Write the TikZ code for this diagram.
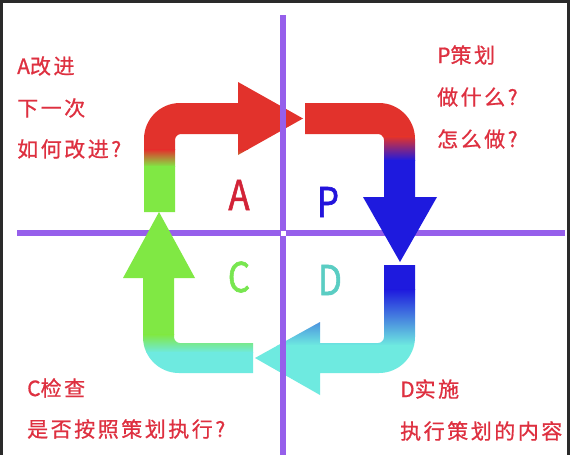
\documentclass[tikz,border=0pt]{standalone}
\usepackage{fontspec}
\newfontfamily\cjk[LetterSpace=12,FakeBold=0.8]{Noto Sans CJK SC}
\newfontfamily\cjkn[FakeBold=0.8]{Noto Sans CJK SC}
\newfontfamily\cjkl[FakeBold=1.5]{Noto Sans CJK SC}
\newcommand{\lat}[1]{{\cjkn #1}}
\definecolor{cred}{RGB}{226,50,44}
\definecolor{cgreen}{RGB}{128,232,68}
\definecolor{cblue}{RGB}{30,26,222}
\definecolor{ccyan}{RGB}{110,234,224}
\definecolor{cpurple}{RGB}{150,95,235}
\definecolor{ctext}{RGB}{222,48,64}
\definecolor{cframe}{RGB}{42,42,42}
\begin{document}
\begin{tikzpicture}[x=1pt,y=-1pt,
  label/.style={anchor=west,inner sep=0pt,text=ctext,font=\cjk\fontsize{21pt}{21pt}\selectfont},
  letter/.style={inner sep=0pt,font=\cjkl\fontsize{41pt}{41pt}\selectfont},
  axis/.style={draw=cpurple,line width=6pt}]
\useasboundingbox (0,0) rectangle (570,455);
\fill[cframe] (0,0) rectangle (570,455);
\fill[white] (3,3) rectangle (567,455);
% horizontal axis
\draw[axis] (17,233) -- (565,233);
% arrow A
\begin{scope}
\clip (144,212) -- (144,139) .. controls (144,119.1) and (160.1,103) .. (180,103) -- (238,103) -- (238,82) -- (303,118.5) -- (238,155) -- (238,134) -- (181,134) .. controls (177.7,134) and (175,136.7) .. (175,140) -- (175,212) -- cycle;
\fill[cred] (100,60) rectangle (320,150);
\shade[top color=cred,bottom color=cgreen] (100,149.5) rectangle (320,166.5);
\fill[cgreen] (100,166) rectangle (320,230);
\end{scope}
% arrow P
\begin{scope}
\clip (305,103) -- (379,103) .. controls (398.9,103) and (415,119.1) .. (415,139) -- (415,197) -- (437,197) -- (400,262) -- (363,197) -- (384,197) -- (384,140) .. controls (384,136.7) and (381.3,134) .. (378,134) -- (305,134) -- cycle;
\fill[cred] (290,90) rectangle (450,137);
\shade[top color=cred,bottom color=cblue] (290,136.5) rectangle (450,160.5);
\fill[cblue] (290,160) rectangle (450,270);
\end{scope}
% arrow D
\begin{scope}
\clip (384,265) -- (415,265) -- (415,337) .. controls (415,356.9) and (398.9,373) .. (379,373) -- (320,373) -- (320,395) -- (255,358) -- (320,322) -- (320,343) -- (378,343) .. controls (381.3,343) and (384,340.3) .. (384,337) -- cycle;
\fill[cblue] (240,255) rectangle (430,290);
\shade[top color=cblue,bottom color=ccyan] (240,289.5) rectangle (430,345.5);
\fill[ccyan] (240,345) rectangle (430,400);
\end{scope}
% arrow C
\begin{scope}
\clip (253,343) -- (253,373) -- (179,373) .. controls (159.1,373) and (143,356.9) .. (143,337) -- (143,278) -- (123,278) -- (159,212) -- (195,278) -- (174,278) -- (174,337) .. controls (174,340.3) and (176.7,343) .. (180,343) -- cycle;
\fill[cgreen] (110,205) rectangle (260,335);
\shade[top color=cgreen,bottom color=ccyan] (110,334.5) rectangle (260,352.5);
\fill[ccyan] (110,352) rectangle (260,380);
\end{scope}
% vertical axis
\draw[axis] (283,15) -- (283,455);
\fill[white] (280.5,230.5) rectangle (285.5,235.5);
% quadrant letters
\node[letter,text={rgb,255:red,210;green,35;blue,55}] (qa) at (239,195) {\scalebox{0.85}[1]{A}};
\node[letter,text={rgb,255:red,35;green,20;blue,220}] (qp) at (328,202) {\scalebox{0.85}[1]{P}};
\node[letter,text={rgb,255:red,120;green,230;blue,80}] (qc) at (239,277) {\scalebox{0.85}[1]{C}};
\node[letter,text={rgb,255:red,90;green,205;blue,195}] (qd) at (330,280) {\scalebox{0.85}[1]{D}};
% labels
\node[label] (a1) at (17,66) {\lat{A}改进};
\node[label] (a2) at (17,108) {下一次};
\node[label] (a3) at (17,149) {如何改进?};
\node[label] (p1) at (437,55) {\lat{P}策划};
\node[label] (p2) at (437,97) {做什么?};
\node[label] (p3) at (437,139) {怎么做?};
\node[label] (c1) at (27,388) {\lat{C}检查};
\node[label] (c2) at (27,429) {是否按照策划执行?};
\node[label] (d1) at (400,389) {\lat{D}实施};
\node[label] (d2) at (400,431) {执行策划的内容};
\end{tikzpicture}
\end{document}
